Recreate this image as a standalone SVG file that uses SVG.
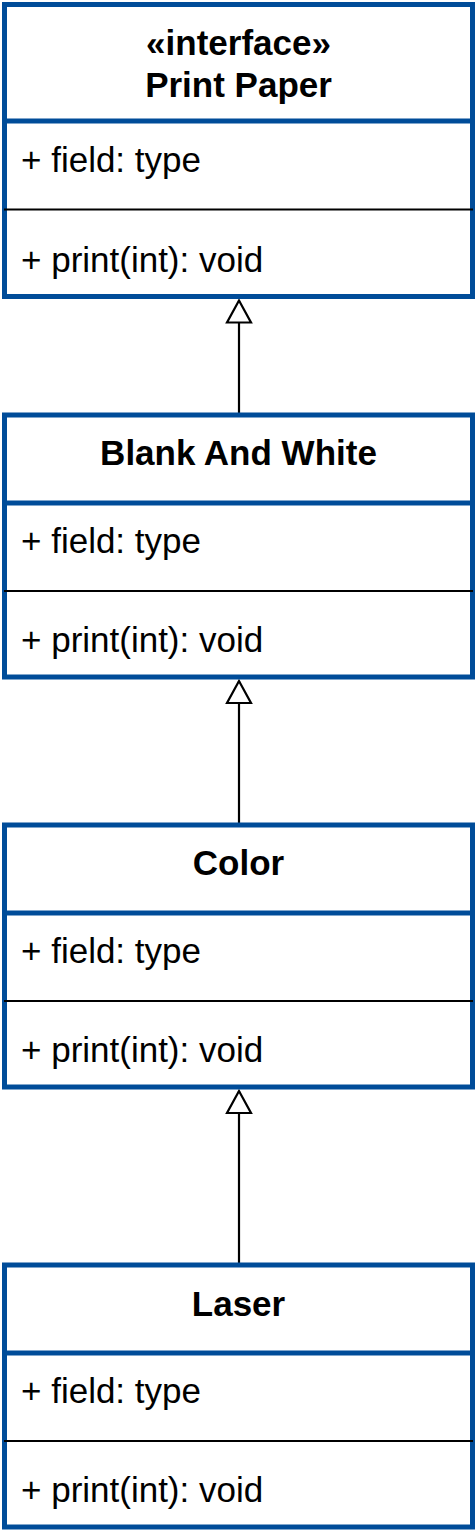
<svg xmlns="http://www.w3.org/2000/svg" width="475" height="1536" viewBox="0 0 475 1536">
<style>
.box{fill:#ffffff;stroke:#004C99;stroke-width:5}
.sep{stroke:#004C99;stroke-width:5}
.div{stroke:#000000;stroke-width:2.2}
.t{font-family:"Liberation Sans",Arial,sans-serif;font-size:35px;fill:#000000}
.b{font-weight:bold;text-anchor:middle}
.edge{stroke:#000000;stroke-width:2.2;fill:none}
</style>
<defs>
<marker id="tri" markerUnits="userSpaceOnUse" markerWidth="28" markerHeight="28" refX="24" refY="14" orient="auto" viewBox="0 0 28 28">
<path d="M24 14 L2 2 L2 26 Z" fill="#ffffff" stroke="#000000" stroke-width="2.2"/>
</marker>
</defs>
<rect width="475" height="1536" fill="#ffffff"/>
<g id="connectors">
<line class="edge" x1="239" y1="415" x2="239" y2="300.5" marker-end="url(#tri)"/>
<line class="edge" x1="239" y1="825" x2="239" y2="681" marker-end="url(#tri)"/>
<line class="edge" x1="239" y1="1265" x2="239" y2="1091" marker-end="url(#tri)"/>
</g>
<g id="print-paper">
<rect class="box" x="4.5" y="4.5" width="468" height="292"/>
<line class="sep" x1="4.5" y1="121" x2="472.5" y2="121"/>
<line class="div" x1="4" y1="209.5" x2="473" y2="209.5"/>
<text class="t b" x="238.5" y="55">«interface»</text>
<text class="t b" x="238.5" y="97">Print Paper</text>
<text class="t" x="21" y="172">+ field: type</text>
<text class="t" x="21" y="272">+ print(int): void</text>
</g>
<g id="blank-and-white">
<rect class="box" x="4.5" y="415" width="468" height="262"/>
<line class="sep" x1="4.5" y1="503" x2="472.5" y2="503"/>
<line class="div" x1="4" y1="591" x2="473" y2="591"/>
<text class="t b" x="238.5" y="465">Blank And White</text>
<text class="t" x="21" y="553">+ field: type</text>
<text class="t" x="21" y="652">+ print(int): void</text>
</g>
<g id="color">
<rect class="box" x="4.5" y="825" width="468" height="262"/>
<line class="sep" x1="4.5" y1="913" x2="472.5" y2="913"/>
<line class="div" x1="4" y1="1001" x2="473" y2="1001"/>
<text class="t b" x="238.5" y="875">Color</text>
<text class="t" x="21" y="963">+ field: type</text>
<text class="t" x="21" y="1062">+ print(int): void</text>
</g>
<g id="laser">
<rect class="box" x="4.5" y="1265" width="468" height="262"/>
<line class="sep" x1="4.5" y1="1353" x2="472.5" y2="1353"/>
<line class="div" x1="4" y1="1441" x2="473" y2="1441"/>
<text class="t b" x="238.5" y="1316">Laser</text>
<text class="t" x="21" y="1403">+ field: type</text>
<text class="t" x="21" y="1502">+ print(int): void</text>
</g>
</svg>
